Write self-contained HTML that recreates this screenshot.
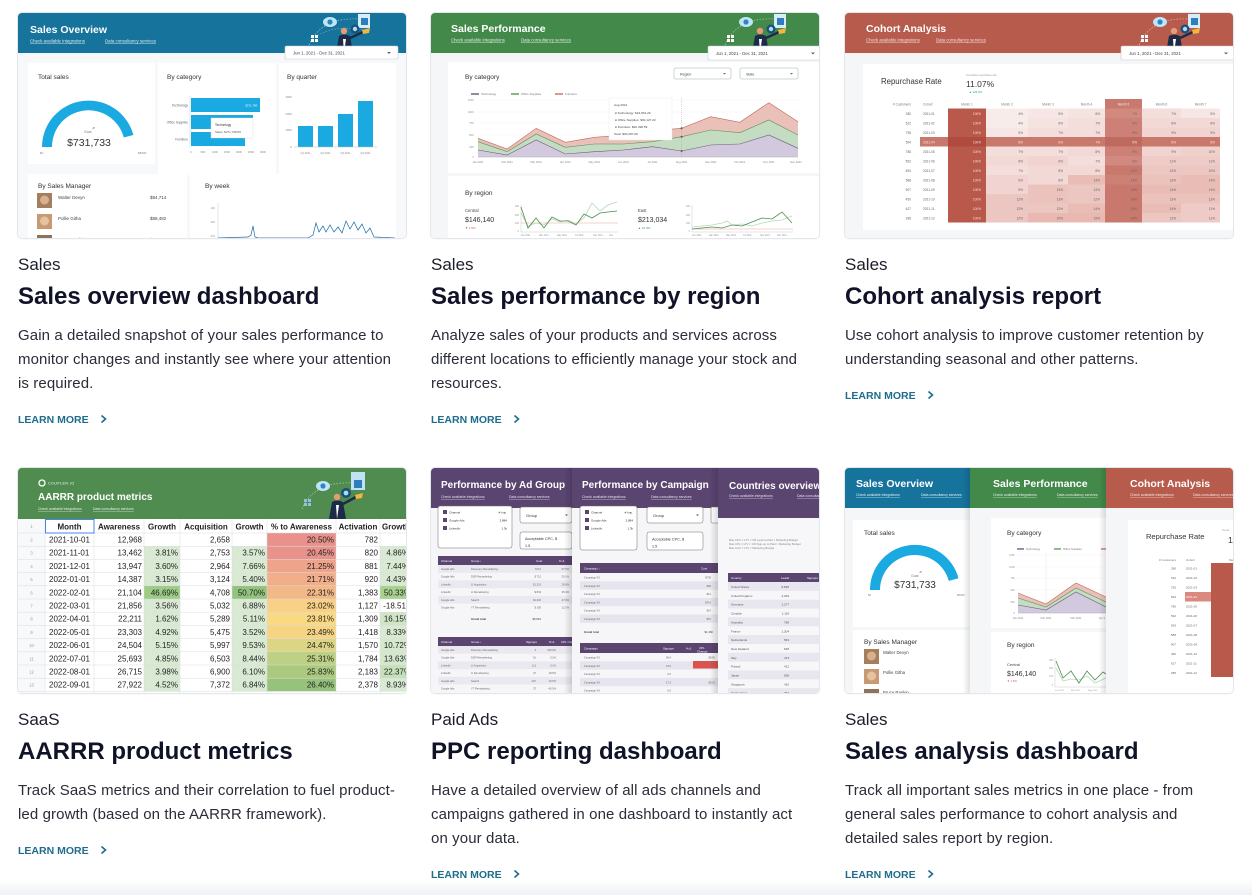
<!DOCTYPE html>
<html><head><meta charset="utf-8">
<style>
html,body{margin:0;padding:0}
body{width:1252px;height:895px;background:#fff;position:relative;overflow:hidden;font-family:"Liberation Sans",sans-serif}
.card{position:absolute;width:388px}
.thumb{width:388px;height:225px;border-radius:4px;overflow:hidden;box-shadow:0 0 0 1px #e3e7eb,0 1px 3px rgba(0,0,0,.05);background:#fff}
.thumb svg{display:block}
.cat{margin-top:17px;font-size:17px;line-height:20px;color:#1b1d29;white-space:nowrap}
.ttl{margin-top:7px;font-size:24px;line-height:30px;font-weight:bold;color:#101228;white-space:nowrap}
.desc{margin-top:12px;font-size:15px;line-height:24px;color:#2a2c38;white-space:nowrap;letter-spacing:.1px}
.lm{margin-top:17px;font-size:10.5px;line-height:14px;font-weight:bold;color:#1f6c8c;white-space:nowrap}
.lm svg{display:inline-block;vertical-align:-1px;margin-left:11px}
svg text{font-family:"Liberation Sans",sans-serif}
.e{text-anchor:end}
.m{text-anchor:middle}
.u{text-decoration:underline}
.band{position:absolute;left:0;top:880px;width:1252px;height:15px;background:linear-gradient(#ffffff,#eef2f6)}
</style></head><body>
<div class="band"></div>

<!-- ============ CARD 1 ============ -->
<div class="card" style="left:18px;top:13px">
<div class="thumb">
<svg width="388" height="225" viewBox="0 0 388 225">
<rect width="388" height="225" fill="#f6f8fa"/>
<rect width="388" height="40" fill="#16739b"/>
<text x="12" y="20" font-size="10.5" font-weight="bold" fill="#fff">Sales Overview</text>
<text x="12" y="29.5" font-size="4.4" fill="#e3eef5" class="u">Check available integrations</text>
<text x="87" y="29.5" font-size="4.4" fill="#e3eef5" class="u">Data consultancy services</text>
<g transform="translate(289,0)">
 <path d="M2 32 Q14 4 52 6" fill="none" stroke="#fff" stroke-width=".6" stroke-dasharray="1.5 1.5" opacity=".7"/>
 <path d="M8 24 Q30 10 60 18" fill="none" stroke="#fff" stroke-width=".5" stroke-dasharray="1.5 1.5" opacity=".6"/>
 <ellipse cx="23" cy="9" rx="7" ry="5" fill="#bfe6f7"/><circle cx="23" cy="9" r="2.6" fill="#2d86c2"/>
 <rect x="51" y="1" width="12" height="14" fill="#d7eef9"/><rect x="54" y="5" width="7" height="7" fill="#2e7dbf"/>
 <circle cx="48" cy="16" r="4.5" fill="#1b4f7a"/><circle cx="48" cy="16" r="2.2" fill="#a7dcf2"/>
 <path d="M29 40 L32 23 Q37 20 43 23 L46 40 Z" fill="#1c2c48"/><circle cx="37" cy="18" r="3.2" fill="#e59c74"/>
 <path d="M36 26 L37 40 L39 26 Z" fill="#fff"/>
 <path d="M43 25 L56 19" stroke="#1c2c48" stroke-width="2.6"/><path d="M55 17 L63 15 L62 20 L56 21 Z" fill="#f3b63f"/>
 <g fill="#fff"><rect x="4" y="22" width="3" height="3"/><rect x="8" y="22" width="3" height="3"/><rect x="4" y="26" width="3" height="3"/><rect x="8" y="26" width="3" height="3"/></g>
</g>
<rect x="267" y="33" width="113" height="13" rx="1.5" fill="#fff" stroke="#c3ced8" stroke-width=".6"/>
<text x="275" y="41.5" font-size="4.3" fill="#444">Jun 1, 2021 - Dec 31, 2021</text>
<path d="M369 39 l2 2 l2 -2z" fill="#666"/>
<!-- panels -->
<rect x="10" y="50" width="127" height="101" fill="#fff"/>
<rect x="140" y="50" width="118" height="112" fill="#fff"/>
<rect x="261" y="50" width="117" height="112" fill="#fff"/>
<rect x="10" y="161" width="159" height="64" fill="#fff"/>
<rect x="172" y="161" width="206" height="64" fill="#fff"/>
<text x="20" y="66" font-size="6.5" fill="#333">Total sales</text>
<path d="M24 134 A46.5 46.5 0 0 1 115.4 122 L105.8 124.5 A36.5 36.5 0 0 0 34 134 Z" fill="#1aa9e0"/>
<text x="66" y="120" font-size="3.5" fill="#777">Goal</text>
<path d="M74 116 l2 -2 l1 1 z" fill="#d9534f"/>
<text x="71" y="133" font-size="10.5" class="m" fill="#333">$731,733</text>
<text x="22" y="141" font-size="3" fill="#888">$0</text>
<text x="120" y="141" font-size="3" fill="#888">$800K</text>
<text x="149" y="66" font-size="6.5" fill="#333">By category</text>
<g font-size="3.2" fill="#666">
<text x="170" y="93.5" class="e">Technology</text><text x="170" y="110.5" class="e">Office Supplies</text><text x="170" y="127.5" class="e">Furniture</text>
</g>
<path d="M172 83 V134" stroke="#ccc" stroke-width=".5"/>
<rect x="173" y="85" width="69" height="14" fill="#1aa9e0"/>
<rect x="173" y="102" width="62" height="14" fill="#1aa9e0"/>
<rect x="173" y="119" width="54" height="14" fill="#1aa9e0"/>
<text x="239" y="93.5" font-size="2.8" class="e" fill="#fff">$371,798</text>
<g font-size="2.7" fill="#888"><text x="173" y="140" class="m">0</text><text x="185" y="140" class="m">50K</text><text x="197" y="140" class="m">100K</text><text x="209" y="140" class="m">150K</text><text x="221" y="140" class="m">200K</text><text x="233" y="140" class="m">250K</text><text x="245" y="140" class="m">300K</text></g>
<rect x="193" y="105" width="42" height="20" fill="#fff" stroke="#ddd" stroke-width=".4"/>
<text x="197" y="113" font-size="3.2" fill="#333">Technology</text>
<text x="197" y="120" font-size="3" fill="#555">Sales: $371,798.83</text>
<text x="269" y="66" font-size="6.5" fill="#333">By quarter</text>
<g font-size="2.8" fill="#888"><text x="274" y="85" class="e">300K</text><text x="274" y="102" class="e">200K</text><text x="274" y="118" class="e">100K</text><text x="274" y="135" class="e">0</text></g>
<rect x="280" y="113" width="15" height="21" fill="#1aa9e0"/>
<rect x="300" y="113" width="15" height="21" fill="#1aa9e0"/>
<rect x="320" y="101" width="15" height="33" fill="#1aa9e0"/>
<rect x="340" y="88" width="15" height="46" fill="#1aa9e0"/>
<path d="M276 134 H359" stroke="#bbb" stroke-width=".5"/>
<g font-size="2.7" fill="#888"><text x="287.5" y="141" class="m">Q1 2021</text><text x="307.5" y="141" class="m">Q2 2021</text><text x="327.5" y="141" class="m">Q3 2021</text><text x="347.5" y="141" class="m">Q4 2021</text></g>
<text x="20" y="175" font-size="6.5" fill="#333">By Sales Manager</text>
<rect x="19" y="180" width="15" height="15" fill="#a57e5e"/><circle cx="26.5" cy="187" r="4.5" fill="#d9b08c"/>
<rect x="19" y="201" width="15" height="15" fill="#c79a74"/><circle cx="26.5" cy="208" r="4.5" fill="#e6c3a0"/>
<rect x="19" y="222" width="15" height="3" fill="#8e7358"/>
<g font-size="4.5" fill="#444"><text x="40" y="186">Walter Devyn</text><text x="40" y="207">Pollie Githa</text><text x="40" y="228">Bruce Rankin</text>
<text x="132" y="186">$94,714</text><text x="132" y="207">$88,482</text><text x="132" y="228">$81,285</text></g>
<text x="187" y="175" font-size="6.5" fill="#333">By week</text>
<g font-size="2.7" fill="#999"><text x="197" y="196" class="e">400</text><text x="197" y="210" class="e">300</text><text x="197" y="224" class="e">200</text></g>
<path d="M200 190 V225" stroke="#bbb" stroke-width=".4"/>
<polyline points="200,225 230,224 233,222 235,213 237,224 240,225 290,225 295,222 298,210 301,219 305,213 308,219 312,212 316,219 320,214 324,220 328,208 332,216 336,209 340,217 344,211 348,220 352,215 356,224 377,225" fill="none" stroke="#1b6aa5" stroke-width=".7"/>
</svg>
</div>
<div class="cat">Sales</div>
<div class="ttl">Sales overview dashboard</div>
<div class="desc">Gain a detailed snapshot of your sales performance to<br>monitor changes and instantly see where your attention<br>is required.</div>
<div class="lm">LEARN MORE<svg width="7" height="10" viewBox="0 0 7 10"><polyline points="1.5,1.5 5.5,5 1.5,8.5" fill="none" stroke="#1f6c8c" stroke-width="1.6"/></svg></div>
</div>

<!-- ============ CARD 2 ============ -->
<div class="card" style="left:431px;top:13px">
<div class="thumb">
<svg width="388" height="225" viewBox="0 0 388 225">
<rect width="388" height="225" fill="#f4f6f8"/>
<rect width="388" height="40" fill="#43894a"/>
<text x="20" y="19" font-size="10.5" font-weight="bold" fill="#fff">Sales Performance</text>
<text x="20" y="28.5" font-size="4.3" fill="#e4f0e4" class="u">Check available integrations</text>
<text x="90" y="28.5" font-size="4.3" fill="#e4f0e4" class="u">Data consultancy services</text>
<g transform="translate(292,0)">
 <path d="M2 32 Q14 4 52 6" fill="none" stroke="#fff" stroke-width=".6" stroke-dasharray="1.5 1.5" opacity=".7"/>
 <ellipse cx="23" cy="9" rx="7" ry="5" fill="#bfe6f7"/><circle cx="23" cy="9" r="2.6" fill="#2d86c2"/>
 <rect x="51" y="1" width="12" height="14" fill="#d7eef9"/><rect x="54" y="5" width="7" height="7" fill="#2e7dbf"/>
 <circle cx="48" cy="16" r="4.5" fill="#1b4f7a"/><circle cx="48" cy="16" r="2.2" fill="#a7dcf2"/>
 <path d="M29 40 L32 23 Q37 20 43 23 L46 40 Z" fill="#1c2c48"/><circle cx="37" cy="18" r="3.2" fill="#e59c74"/>
 <path d="M36 26 L37 40 L39 26 Z" fill="#fff"/>
 <path d="M43 25 L56 19" stroke="#1c2c48" stroke-width="2.6"/><path d="M55 17 L63 15 L62 20 L56 21 Z" fill="#f3b63f"/>
 <g fill="#fff"><rect x="4" y="22" width="3" height="3"/><rect x="8" y="22" width="3" height="3"/><rect x="4" y="26" width="3" height="3"/><rect x="8" y="26" width="3" height="3"/></g>
</g>
<rect x="277" y="33" width="115" height="14" rx="1.5" fill="#fff" stroke="#c3ced8" stroke-width=".6"/>
<text x="285" y="42" font-size="4.3" fill="#444">Jun 1, 2021 - Dec 31, 2021</text>
<path d="M380 39.5 l2 2 l2 -2z" fill="#666"/>
<rect x="17" y="49" width="371" height="111" fill="#fff"/>
<text x="34" y="66" font-size="6.5" fill="#333">By category</text>
<rect x="243" y="55" width="57" height="11" rx="1.5" fill="#fff" stroke="#9aa" stroke-width=".5"/>
<text x="249" y="62.5" font-size="3.6" fill="#444">Region</text><path d="M292 60 l1.5 1.5 l1.5 -1.5z" fill="#666"/>
<rect x="309" y="55" width="58" height="11" rx="1.5" fill="#fff" stroke="#9aa" stroke-width=".5"/>
<text x="315" y="62.5" font-size="3.6" fill="#444">State</text><path d="M359 60 l1.5 1.5 l1.5 -1.5z" fill="#666"/>
<rect x="40" y="80.2" width="8" height="1.6" fill="#7b6a8c"/><text x="50" y="82" font-size="3" fill="#777">Technology</text>
<rect x="80" y="80.2" width="8" height="1.6" fill="#6ea66e"/><text x="90" y="82" font-size="3" fill="#777">Office Supplies</text>
<rect x="124" y="80.2" width="8" height="1.6" fill="#d08075"/><text x="134" y="82" font-size="3" fill="#777">Furniture</text>
<g font-size="2.8" fill="#999"><text x="43" y="88" class="e">125K</text><text x="43" y="100" class="e">100K</text><text x="43" y="111" class="e">75K</text><text x="43" y="123" class="e">50K</text><text x="43" y="135" class="e">25K</text><text x="43" y="145" class="e">0</text></g>
<path d="M47 87H367M47 99H367M47 110H367M47 122H367M47 134H367" stroke="#eee" stroke-width=".4"/>
<polygon points="47,137 76.1,142 105.2,127 134.3,141 163.4,138.7 192.5,137 221.5,133.7 250.6,138 279.7,132 308.8,131 337.9,122 367,135.3 367,144 47,144" fill="#d3c9de"/>
<polygon points="47,128.7 76.1,138.7 105.2,121 134.3,134.3 163.4,131 192.5,131 221.5,128.7 250.6,123.7 279.7,117 308.8,119.7 337.9,107 367,122 367,135.3 337.9,122 308.8,131 279.7,132 250.6,138 221.5,133.7 192.5,137 163.4,138.7 134.3,141 105.2,127 76.1,142 47,137" fill="#c4dcc2"/>
<polygon points="47,125.3 76.1,136 105.2,115.3 134.3,129.3 163.4,124.3 192.5,122 221.5,117.7 250.6,115.3 279.7,103.7 308.8,109.3 337.9,89.7 367,108.7 367,122 337.9,107 308.8,119.7 279.7,117 250.6,123.7 221.5,128.7 192.5,131 163.4,131 134.3,134.3 105.2,121 76.1,138.7 47,128.7" fill="#e9c1b9"/>
<polyline points="47,137 76.1,142 105.2,127 134.3,141 163.4,138.7 192.5,137 221.5,133.7 250.6,138 279.7,132 308.8,131 337.9,122 367,135.3" fill="none" stroke="#6a5a7c" stroke-width=".6"/>
<polyline points="47,128.7 76.1,138.7 105.2,121 134.3,134.3 163.4,131 192.5,131 221.5,128.7 250.6,123.7 279.7,117 308.8,119.7 337.9,107 367,122" fill="none" stroke="#5e8e5e" stroke-width=".6"/>
<polyline points="47,125.3 76.1,136 105.2,115.3 134.3,129.3 163.4,124.3 192.5,122 221.5,117.7 250.6,115.3 279.7,103.7 308.8,109.3 337.9,89.7 367,108.7" fill="none" stroke="#c0675c" stroke-width=".6"/>
<path d="M47 144H367" stroke="#aaa" stroke-width=".5"/>
<path d="M250.6 85V144" stroke="#999" stroke-width=".4" stroke-dasharray="1 1"/>
<circle cx="250.6" cy="138" r="1" fill="#555"/><circle cx="250.6" cy="123.7" r="1" fill="#555"/><circle cx="250.6" cy="115.3" r="1" fill="#555"/>
<rect x="178" y="85" width="63" height="42" fill="#fff" stroke="#e3e3e3" stroke-width=".4"/>
<g font-size="3.1" fill="#444"><text x="183" y="93">Aug 2021</text><text x="184" y="101">● Technology: $19,831.29</text><text x="184" y="108">● Office Supplies: $30,127.22</text><text x="184" y="115">● Furniture: $46,328.59</text><text x="183" y="122">Total: $92,287.09</text></g>
<g font-size="2.7" fill="#888"><text x="47" y="150" class="m">Jan 2021</text><text x="76.1" y="150" class="m">Feb 2021</text><text x="105.2" y="150" class="m">Mar 2021</text><text x="134.3" y="150" class="m">Apr 2021</text><text x="163.4" y="150" class="m">May 2021</text><text x="192.5" y="150" class="m">Jun 2021</text><text x="221.5" y="150" class="m">Jul 2021</text><text x="250.6" y="150" class="m">Aug 2021</text><text x="279.7" y="150" class="m">Sep 2021</text><text x="308.8" y="150" class="m">Oct 2021</text><text x="337.9" y="150" class="m">Nov 2021</text><text x="365" y="150" class="m">Dec 2021</text></g>
<rect x="17" y="163" width="371" height="62" fill="#fff"/>
<text x="34" y="182" font-size="6.5" fill="#333">By region</text>
<text x="34" y="199" font-size="4.2" fill="#444">Central</text>
<text x="34" y="209" font-size="7" fill="#333">$146,140</text>
<text x="34" y="216" font-size="3" fill="#d9534f">▼ 1.5%</text>
<g font-size="2.5" fill="#999"><text x="88" y="194" class="e">300</text><text x="88" y="203" class="e">200</text><text x="88" y="211" class="e">100</text><text x="88" y="219" class="e">0</text></g>
<path d="M90 192V219H187" fill="none" stroke="#bbb" stroke-width=".4"/>
<path d="M90 210H187" stroke="#e08a80" stroke-width=".4"/>
<polyline points="90,200 97,213 105,210 113,212 121,206 129,209 137,207 145,211 153,205 161,190 169,198 177,192 186,189" fill="none" stroke="#b8d8b6" stroke-width=".8"/>
<polyline points="90,194 97,215 105,205 113,215 121,204 129,208 137,208 145,212 153,201 161,205 169,200 177,199 186,198" fill="none" stroke="#4c8c4c" stroke-width=".8"/>
<g font-size="2.3" fill="#999"><text x="90" y="223">Jan 2021</text><text x="108" y="223">Mar 2021</text><text x="126" y="223">May 2021</text><text x="144" y="223">Jul 2021</text><text x="162" y="223">Sep 2021</text><text x="178" y="223">Nov</text></g>
<text x="207" y="199" font-size="4.2" fill="#444">East</text>
<text x="207" y="209" font-size="7" fill="#333">$213,034</text>
<text x="207" y="216" font-size="3" fill="#3c9a5f">▲ 10.3%</text>
<g font-size="2.5" fill="#999"><text x="259" y="194" class="e">300</text><text x="259" y="203" class="e">200</text><text x="259" y="211" class="e">100</text><text x="259" y="219" class="e">0</text></g>
<path d="M261 192V219H362" fill="none" stroke="#bbb" stroke-width=".4"/>
<path d="M261 216H362" stroke="#e08a80" stroke-width=".4"/>
<polyline points="261,214 271,213 281,212 291,210 296,208 301,212 311,211 321,213 331,210 341,208 351,207 361,203" fill="none" stroke="#b8d8b6" stroke-width=".8"/>
<polyline points="261,216 271,215 281,214 291,215 301,212 311,213 321,209 331,205 341,206 351,199 361,210" fill="none" stroke="#4c8c4c" stroke-width=".8"/>
<g font-size="2.3" fill="#999"><text x="261" y="223">Jan 2021</text><text x="278" y="223">Mar 2021</text><text x="295" y="223">May 2021</text><text x="312" y="223">Jul 2021</text><text x="329" y="223">Sep 2021</text><text x="346" y="223">Nov 2021</text></g>
</svg>
</div>
<div class="cat">Sales</div>
<div class="ttl">Sales performance by region</div>
<div class="desc">Analyze sales of your products and services across<br>different locations to efficiently manage your stock and<br>resources.</div>
<div class="lm">LEARN MORE<svg width="7" height="10" viewBox="0 0 7 10"><polyline points="1.5,1.5 5.5,5 1.5,8.5" fill="none" stroke="#1f6c8c" stroke-width="1.6"/></svg></div>
</div>

<!-- ============ CARD 3 ============ -->
<div class="card" style="left:845px;top:13px">
<div class="thumb">
<svg width="388" height="225" viewBox="0 0 388 225">
<rect width="388" height="225" fill="#f4f6f8"/>
<rect width="388" height="40" fill="#b75b4d"/>
<text x="21" y="19" font-size="10.5" font-weight="bold" fill="#fff">Cohort Analysis</text>
<text x="21" y="28.5" font-size="4.3" fill="#f6e3df" class="u">Check available integrations</text>
<text x="91" y="28.5" font-size="4.3" fill="#f6e3df" class="u">Data consultancy services</text>
<g transform="translate(292,0)">
 <path d="M2 32 Q14 4 52 6" fill="none" stroke="#fff" stroke-width=".6" stroke-dasharray="1.5 1.5" opacity=".7"/>
 <ellipse cx="23" cy="9" rx="7" ry="5" fill="#bfe6f7"/><circle cx="23" cy="9" r="2.6" fill="#2d86c2"/>
 <rect x="51" y="1" width="12" height="14" fill="#d7eef9"/><rect x="54" y="5" width="7" height="7" fill="#2e7dbf"/>
 <circle cx="48" cy="16" r="4.5" fill="#1b4f7a"/><circle cx="48" cy="16" r="2.2" fill="#a7dcf2"/>
 <path d="M29 40 L32 23 Q37 20 43 23 L46 40 Z" fill="#1c2c48"/><circle cx="37" cy="18" r="3.2" fill="#e59c74"/>
 <path d="M36 26 L37 40 L39 26 Z" fill="#fff"/>
 <path d="M43 25 L56 19" stroke="#1c2c48" stroke-width="2.6"/><path d="M55 17 L63 15 L62 20 L56 21 Z" fill="#f3b63f"/>
 <g fill="#fff"><rect x="4" y="22" width="3" height="3"/><rect x="8" y="22" width="3" height="3"/><rect x="4" y="26" width="3" height="3"/><rect x="8" y="26" width="3" height="3"/></g>
</g>
<rect x="276" y="33" width="115" height="14" rx="1.5" fill="#fff" stroke="#d8c4c0" stroke-width=".6"/>
<text x="284" y="42" font-size="4.3" fill="#444">Jun 1, 2021 - Dec 31, 2021</text>
<path d="M379 39.5 l2 2 l2 -2z" fill="#666"/>
<rect x="18" y="51" width="370" height="166" fill="#fff"/>
<text x="36" y="71" font-size="7.8" fill="#333">Repurchase Rate</text>
<text x="121" y="63" font-size="2.5" fill="#999">Cumulative repurchase rate</text>
<text x="121" y="74" font-size="8.5" fill="#333">11.07%</text>
<text x="124" y="80" font-size="2.8" fill="#3c9a5f">▲ 126.3%</text>
<rect x="260" y="86" width="37" height="9.5" fill="#c9796d"/>
<g font-size="3.2" fill="#777">
<text x="66" y="92.5" class="e"># Customers</text><text x="78" y="92.5">Cohort</text>
<text x="122" y="92.5" class="m">Month 1</text><text x="162" y="92.5" class="m">Month 2</text><text x="203" y="92.5" class="m">Month 3</text><text x="241.5" y="92.5" class="m">Month 4</text><text x="278.5" y="92.5" class="m" fill="#fbe9e6">Month 5</text><text x="316.5" y="92.5" class="m">Month 6</text><text x="355.5" y="92.5" class="m">Month 7</text>
</g>
<g font-size="3.2" fill="#666">
<g transform="translate(0,95.5)"><rect x="141" width="42" height="9.5" fill="#f8eceb"/><rect x="183" width="40" height="9.5" fill="#f6e7e6"/><rect x="223" width="37" height="9.5" fill="#f5e3e0"/><rect x="260" width="37" height="9.5" fill="#d28a80"/><rect x="297" width="39" height="9.5" fill="#f4dedb"/><rect x="336" width="39" height="9.5" fill="#f6e7e6"/><rect x="103" width="38" height="9.5" fill="#b9594b"/>
<text x="66" y="6.3" class="e">280</text><text x="78" y="6.3">2021-01</text><text x="136" y="6.3" class="e" fill="#f6dcd7">100%</text><text x="178" y="6.3" class="e">4%</text><text x="218" y="6.3" class="e">5%</text><text x="255" y="6.3" class="e">6%</text><text x="292" y="6.3" class="e">7%</text><text x="331" y="6.3" class="e">7%</text><text x="370" y="6.3" class="e">5%</text></g>
<g transform="translate(0,105)"><rect x="141" width="42" height="9.5" fill="#f8eceb"/><rect x="183" width="40" height="9.5" fill="#f5e3e0"/><rect x="223" width="37" height="9.5" fill="#f4dedb"/><rect x="260" width="37" height="9.5" fill="#cd8176"/><rect x="297" width="39" height="9.5" fill="#f2d9d6"/><rect x="336" width="39" height="9.5" fill="#f2d9d6"/><rect x="103" width="38" height="9.5" fill="#b9594b"/>
<text x="66" y="6.3" class="e">522</text><text x="78" y="6.3">2021-02</text><text x="136" y="6.3" class="e" fill="#f6dcd7">100%</text><text x="178" y="6.3" class="e">4%</text><text x="218" y="6.3" class="e">6%</text><text x="255" y="6.3" class="e">7%</text><text x="292" y="6.3" class="e">9%</text><text x="331" y="6.3" class="e">8%</text><text x="370" y="6.3" class="e">8%</text></g>
<g transform="translate(0,114.5)"><rect x="141" width="42" height="9.5" fill="#f6e7e6"/><rect x="183" width="40" height="9.5" fill="#f4dedb"/><rect x="223" width="37" height="9.5" fill="#f4dedb"/><rect x="260" width="37" height="9.5" fill="#cd8176"/><rect x="297" width="39" height="9.5" fill="#f1d4d1"/><rect x="336" width="39" height="9.5" fill="#f1d4d1"/><rect x="103" width="38" height="9.5" fill="#b9594b"/>
<text x="66" y="6.3" class="e">755</text><text x="78" y="6.3">2021-03</text><text x="136" y="6.3" class="e" fill="#f6dcd7">100%</text><text x="178" y="6.3" class="e">5%</text><text x="218" y="6.3" class="e">7%</text><text x="255" y="6.3" class="e">7%</text><text x="292" y="6.3" class="e">9%</text><text x="331" y="6.3" class="e">9%</text><text x="370" y="6.3" class="e">9%</text></g>
<g transform="translate(0,124)"><rect x="75" width="300" height="9.5" fill="#c9786c"/><rect x="260" width="37" height="9.5" fill="#bf6a5e"/><rect x="103" width="38" height="9.5" fill="#b04c3f"/>
<text x="66" y="6.3" class="e">594</text><text x="78" y="6.3" fill="#fbe9e6">2021-04</text><text x="136" y="6.3" class="e" fill="#f6dcd7">100%</text><text x="178" y="6.3" class="e" fill="#fbe9e6">8%</text><text x="218" y="6.3" class="e" fill="#fbe9e6">6%</text><text x="255" y="6.3" class="e" fill="#fbe9e6">7%</text><text x="292" y="6.3" class="e" fill="#fbe9e6">5%</text><text x="331" y="6.3" class="e" fill="#fbe9e6">8%</text><text x="370" y="6.3" class="e" fill="#fbe9e6">8%</text></g>
<g transform="translate(0,133.5)"><rect x="141" width="42" height="9.5" fill="#f4dedb"/><rect x="183" width="40" height="9.5" fill="#f4dedb"/><rect x="223" width="37" height="9.5" fill="#f2d9d6"/><rect x="260" width="37" height="9.5" fill="#cd8176"/><rect x="297" width="39" height="9.5" fill="#f1d4d1"/><rect x="336" width="39" height="9.5" fill="#efd0cb"/><rect x="103" width="38" height="9.5" fill="#b9594b"/>
<text x="66" y="6.3" class="e">786</text><text x="78" y="6.3">2021-05</text><text x="136" y="6.3" class="e" fill="#f6dcd7">100%</text><text x="178" y="6.3" class="e">7%</text><text x="218" y="6.3" class="e">7%</text><text x="255" y="6.3" class="e">8%</text><text x="292" y="6.3" class="e">9%</text><text x="331" y="6.3" class="e">9%</text><text x="370" y="6.3" class="e">10%</text></g>
<g transform="translate(0,143)"><rect x="141" width="42" height="9.5" fill="#f2d9d6"/><rect x="183" width="40" height="9.5" fill="#f1d4d1"/><rect x="223" width="37" height="9.5" fill="#f4dedb"/><rect x="260" width="37" height="9.5" fill="#d28a80"/><rect x="297" width="39" height="9.5" fill="#eecbc6"/><rect x="336" width="39" height="9.5" fill="#eecbc6"/><rect x="103" width="38" height="9.5" fill="#b9594b"/>
<text x="66" y="6.3" class="e">592</text><text x="78" y="6.3">2021-06</text><text x="136" y="6.3" class="e" fill="#f6dcd7">100%</text><text x="178" y="6.3" class="e">8%</text><text x="218" y="6.3" class="e">9%</text><text x="255" y="6.3" class="e">7%</text><text x="292" y="6.3" class="e">8%</text><text x="331" y="6.3" class="e">11%</text><text x="370" y="6.3" class="e">11%</text></g>
<g transform="translate(0,152.5)"><rect x="141" width="42" height="9.5" fill="#f4dedb"/><rect x="183" width="40" height="9.5" fill="#f2d9d6"/><rect x="223" width="37" height="9.5" fill="#f2d9d6"/><rect x="260" width="37" height="9.5" fill="#c8786c"/><rect x="297" width="39" height="9.5" fill="#ecc6c1"/><rect x="336" width="39" height="9.5" fill="#ecc6c1"/><rect x="103" width="38" height="9.5" fill="#b9594b"/>
<text x="66" y="6.3" class="e">693</text><text x="78" y="6.3">2021-07</text><text x="136" y="6.3" class="e" fill="#f6dcd7">100%</text><text x="178" y="6.3" class="e">7%</text><text x="218" y="6.3" class="e">8%</text><text x="255" y="6.3" class="e">8%</text><text x="292" y="6.3" class="e">12%</text><text x="331" y="6.3" class="e">12%</text><text x="370" y="6.3" class="e">12%</text></g>
<g transform="translate(0,162)"><rect x="141" width="42" height="9.5" fill="#f1d4d1"/><rect x="183" width="40" height="9.5" fill="#f2d9d6"/><rect x="223" width="37" height="9.5" fill="#e9bdb6"/><rect x="260" width="37" height="9.5" fill="#cd8176"/><rect x="297" width="39" height="9.5" fill="#ebc2bc"/><rect x="336" width="39" height="9.5" fill="#e9bdb6"/><rect x="103" width="38" height="9.5" fill="#b9594b"/>
<text x="66" y="6.3" class="e">588</text><text x="78" y="6.3">2021-08</text><text x="136" y="6.3" class="e" fill="#f6dcd7">100%</text><text x="178" y="6.3" class="e">9%</text><text x="218" y="6.3" class="e">8%</text><text x="255" y="6.3" class="e">14%</text><text x="292" y="6.3" class="e">11%</text><text x="331" y="6.3" class="e">13%</text><text x="370" y="6.3" class="e">14%</text></g>
<g transform="translate(0,171.5)"><rect x="141" width="42" height="9.5" fill="#f1d4d1"/><rect x="183" width="40" height="9.5" fill="#ebc2bc"/><rect x="223" width="37" height="9.5" fill="#ecc6c1"/><rect x="260" width="37" height="9.5" fill="#c8786c"/><rect x="297" width="39" height="9.5" fill="#e9bdb6"/><rect x="336" width="39" height="9.5" fill="#e9bdb6"/><rect x="103" width="38" height="9.5" fill="#b9594b"/>
<text x="66" y="6.3" class="e">907</text><text x="78" y="6.3">2021-09</text><text x="136" y="6.3" class="e" fill="#f6dcd7">100%</text><text x="178" y="6.3" class="e">9%</text><text x="218" y="6.3" class="e">13%</text><text x="255" y="6.3" class="e">12%</text><text x="292" y="6.3" class="e">13%</text><text x="331" y="6.3" class="e">14%</text><text x="370" y="6.3" class="e">14%</text></g>
<g transform="translate(0,181)"><rect x="141" width="42" height="9.5" fill="#ecc6c1"/><rect x="183" width="40" height="9.5" fill="#ebc2bc"/><rect x="223" width="37" height="9.5" fill="#ecc6c1"/><rect x="260" width="37" height="9.5" fill="#c8786c"/><rect x="297" width="39" height="9.5" fill="#ebc2bc"/><rect x="336" width="39" height="9.5" fill="#ebc2bc"/><rect x="103" width="38" height="9.5" fill="#b9594b"/>
<text x="66" y="6.3" class="e">450</text><text x="78" y="6.3">2021-10</text><text x="136" y="6.3" class="e" fill="#f6dcd7">100%</text><text x="178" y="6.3" class="e">12%</text><text x="218" y="6.3" class="e">13%</text><text x="255" y="6.3" class="e">12%</text><text x="292" y="6.3" class="e">14%</text><text x="331" y="6.3" class="e">13%</text><text x="370" y="6.3" class="e">13%</text></g>
<g transform="translate(0,190.5)"><rect x="141" width="42" height="9.5" fill="#ecc6c1"/><rect x="183" width="40" height="9.5" fill="#ecc6c1"/><rect x="223" width="37" height="9.5" fill="#e9bdb6"/><rect x="260" width="37" height="9.5" fill="#c8786c"/><rect x="297" width="39" height="9.5" fill="#e9bdb6"/><rect x="336" width="39" height="9.5" fill="#eecbc6"/><rect x="103" width="38" height="9.5" fill="#b9594b"/>
<text x="66" y="6.3" class="e">627</text><text x="78" y="6.3">2021-11</text><text x="136" y="6.3" class="e" fill="#f6dcd7">100%</text><text x="178" y="6.3" class="e">12%</text><text x="218" y="6.3" class="e">12%</text><text x="255" y="6.3" class="e">14%</text><text x="292" y="6.3" class="e">13%</text><text x="331" y="6.3" class="e">14%</text><text x="370" y="6.3" class="e">11%</text></g>
<g transform="translate(0,200)"><rect x="141" width="42" height="9.5" fill="#ecc6c1"/><rect x="183" width="40" height="9.5" fill="#e8b8b1"/><rect x="223" width="37" height="9.5" fill="#e8b8b1"/><rect x="260" width="37" height="9.5" fill="#c8786c"/><rect x="297" width="39" height="9.5" fill="#ecc6c1"/><rect x="336" width="39" height="9.5" fill="#eecbc6"/><rect x="103" width="38" height="9.5" fill="#b9594b"/>
<text x="66" y="6.3" class="e">285</text><text x="78" y="6.3">2021-12</text><text x="136" y="6.3" class="e" fill="#f6dcd7">100%</text><text x="178" y="6.3" class="e">12%</text><text x="218" y="6.3" class="e">15%</text><text x="255" y="6.3" class="e">15%</text><text x="292" y="6.3" class="e">14%</text><text x="331" y="6.3" class="e">12%</text><text x="370" y="6.3" class="e">11%</text></g>
</g>
</svg>
</div>
<div class="cat">Sales</div>
<div class="ttl">Cohort analysis report</div>
<div class="desc">Use cohort analysis to improve customer retention by<br>understanding seasonal and other patterns.</div>
<div class="lm">LEARN MORE<svg width="7" height="10" viewBox="0 0 7 10"><polyline points="1.5,1.5 5.5,5 1.5,8.5" fill="none" stroke="#1f6c8c" stroke-width="1.6"/></svg></div>
</div>

<!-- ============ CARD 4 ============ -->
<div class="card" style="left:18px;top:468px">
<div class="thumb">
<svg width="388" height="225" viewBox="0 0 388 225">
<rect width="388" height="225" fill="#fff"/>
<rect width="388" height="51" fill="#508b50"/>
<circle cx="24" cy="15" r="3" fill="none" stroke="#fff" stroke-width="1.3"/>
<text x="30" y="16.5" font-size="3.5" fill="#fff" letter-spacing=".5">COUPLER.IO</text>
<text x="20" y="32" font-size="10" font-weight="bold" fill="#fff">AARRR product metrics</text>
<text x="20" y="42" font-size="3.5" fill="#e4f0e4" class="u">Check available integrations</text>
<text x="75" y="42" font-size="3.5" fill="#e4f0e4" class="u">Data consultancy services</text>
<g transform="translate(282,9)">
 <path d="M2 32 Q14 4 52 6" fill="none" stroke="#fff" stroke-width=".6" stroke-dasharray="1.5 1.5" opacity=".7"/>
 <ellipse cx="23" cy="9" rx="7" ry="5" fill="#bfe6f7"/><circle cx="23" cy="9" r="2.6" fill="#2d86c2"/>
 <rect x="51" y="-5" width="14" height="18" fill="#bfe3f4"/><rect x="54" y="3" width="8" height="8" fill="#2e7dbf"/>
 <circle cx="46" cy="16" r="5" fill="#1b4f7a"/><circle cx="46" cy="16" r="2.4" fill="#a7dcf2"/>
 <path d="M29 42 L32 25 Q37 22 43 25 L46 42 Z" fill="#1c2c48"/><circle cx="37" cy="20" r="3.2" fill="#e59c74"/>
 <path d="M36 28 L37 42 L39 28 Z" fill="#fff"/>
 <path d="M43 27 L56 20" stroke="#1c2c48" stroke-width="2.6"/><path d="M55 18 L63 16 L62 21 L56 22 Z" fill="#f3b63f"/>
 <g fill="#8fc4e0"><rect x="4" y="22" width="3" height="3"/><rect x="8" y="22" width="3" height="3"/><rect x="4" y="26" width="3" height="3"/><rect x="8" y="26" width="3" height="3"/></g>
</g>
<rect x="0" y="51" width="27" height="174" fill="#f8f9fa"/>
<g>
<rect x="249" y="65" width="69" height="13.2" fill="#e8928b"/>
<g transform="translate(0,78.2)"><rect x="126" width="36" height="13.2" fill="#d9ead3"/><rect x="214" width="35" height="13.2" fill="#d9ead3"/><rect x="249" width="69" height="13.2" fill="#e8928b"/><rect x="362" width="30" height="13.2" fill="#d9ead3"/></g>
<g transform="translate(0,91.4)"><rect x="126" width="36" height="13.2" fill="#d9ead3"/><rect x="214" width="35" height="13.2" fill="#d9ead3"/><rect x="249" width="69" height="13.2" fill="#eea38b"/><rect x="362" width="30" height="13.2" fill="#d9ead3"/></g>
<g transform="translate(0,104.6)"><rect x="126" width="36" height="13.2" fill="#d9ead3"/><rect x="214" width="35" height="13.2" fill="#d9ead3"/><rect x="249" width="69" height="13.2" fill="#f1ae89"/><rect x="362" width="30" height="13.2" fill="#d9ead3"/></g>
<g transform="translate(0,117.8)"><rect x="126" width="36" height="13.2" fill="#9ccc85"/><rect x="214" width="35" height="13.2" fill="#93c47d"/><rect x="249" width="69" height="13.2" fill="#f3b887"/><rect x="362" width="30" height="13.2" fill="#a9d18e"/></g>
<g transform="translate(0,131)"><rect x="126" width="36" height="13.2" fill="#d9ead3"/><rect x="214" width="35" height="13.2" fill="#d9ead3"/><rect x="249" width="69" height="13.2" fill="#f8d086"/></g>
<g transform="translate(0,144.2)"><rect x="126" width="36" height="13.2" fill="#d9ead3"/><rect x="214" width="35" height="13.2" fill="#d9ead3"/><rect x="249" width="69" height="13.2" fill="#f9d982"/><rect x="362" width="30" height="13.2" fill="#cfe5c5"/></g>
<g transform="translate(0,157.4)"><rect x="126" width="36" height="13.2" fill="#d9ead3"/><rect x="214" width="35" height="13.2" fill="#d9ead3"/><rect x="249" width="69" height="13.2" fill="#f7d483"/><rect x="362" width="30" height="13.2" fill="#d9ead3"/></g>
<g transform="translate(0,170.6)"><rect x="126" width="36" height="13.2" fill="#d9ead3"/><rect x="214" width="35" height="13.2" fill="#d9ead3"/><rect x="249" width="69" height="13.2" fill="#dcd584"/><rect x="362" width="30" height="13.2" fill="#d6e9ce"/></g>
<g transform="translate(0,183.8)"><rect x="126" width="36" height="13.2" fill="#d9ead3"/><rect x="214" width="35" height="13.2" fill="#d9ead3"/><rect x="249" width="69" height="13.2" fill="#bdd083"/><rect x="362" width="30" height="13.2" fill="#d4e8cc"/></g>
<g transform="translate(0,197)"><rect x="126" width="36" height="13.2" fill="#d9ead3"/><rect x="214" width="35" height="13.2" fill="#d9ead3"/><rect x="249" width="69" height="13.2" fill="#abca7f"/><rect x="362" width="30" height="13.2" fill="#c6e0b9"/></g>
<g transform="translate(0,210.2)"><rect x="126" width="36" height="13.2" fill="#d9ead3"/><rect x="214" width="35" height="13.2" fill="#d9ead3"/><rect x="249" width="69" height="13.2" fill="#96c27b"/><rect x="362" width="30" height="13.2" fill="#d9ead3"/></g>
</g>
<path d="M27 51V225M76 51V225M126 51V225M162 51V225M214 51V225M249 51V225M318 51V225M362 51V225M0 65H388M0 78.2H388M0 91.4H388M0 104.6H388M0 117.8H388M0 131H388M0 144.2H388M0 157.4H388M0 170.6H388M0 183.8H388M0 197H388M0 210.2H388M0 223.4H388" stroke="#dadce0" stroke-width=".5" fill="none"/>
<rect x="27.5" y="51.5" width="48.5" height="13.5" fill="none" stroke="#4a86e8" stroke-width="1"/>
<g font-size="8" font-weight="bold" fill="#222">
<text x="51.5" y="61.5" class="m">Month</text><text x="101" y="61.5" class="m">Awareness</text><text x="144" y="61.5" class="m">Growth</text><text x="188" y="61.5" class="m">Acquisition</text><text x="231.5" y="61.5" class="m">Growth</text><text x="283.5" y="61.5" class="m">% to Awareness</text><text x="340" y="61.5" class="m">Activation</text><text x="364" y="61.5">Growth</text>
</g>
<g font-size="4.2" fill="#999">
<text x="13.5" y="60" class="m">1</text><text x="13.5" y="73.5" class="m">2</text><text x="13.5" y="86.7" class="m">3</text><text x="13.5" y="99.9" class="m">4</text><text x="13.5" y="113.1" class="m">5</text><text x="13.5" y="126.3" class="m">6</text><text x="13.5" y="139.5" class="m">7</text><text x="13.5" y="152.7" class="m">8</text><text x="13.5" y="165.9" class="m">9</text><text x="13.5" y="179.1" class="m">10</text><text x="13.5" y="192.3" class="m">11</text><text x="13.5" y="205.5" class="m">12</text><text x="13.5" y="218.7" class="m">13</text>
</g>
<g font-size="8" fill="#222">
<g transform="translate(0,65)"><text x="31" y="9.5">2021-10-01</text><text x="124" y="9.5" class="e">12,968</text><text x="212" y="9.5" class="e">2,658</text><text x="316" y="9.5" class="e">20.50%</text><text x="360" y="9.5" class="e">782</text></g>
<g transform="translate(0,78.2)"><text x="31" y="9.5">2021-11-01</text><text x="124" y="9.5" class="e">13,462</text><text x="160" y="9.5" class="e">3.81%</text><text x="212" y="9.5" class="e">2,753</text><text x="247" y="9.5" class="e">3.57%</text><text x="316" y="9.5" class="e">20.45%</text><text x="360" y="9.5" class="e">820</text><text x="391" y="9.5" class="e">4.86%</text></g>
<g transform="translate(0,91.4)"><text x="31" y="9.5">2021-12-01</text><text x="124" y="9.5" class="e">13,947</text><text x="160" y="9.5" class="e">3.60%</text><text x="212" y="9.5" class="e">2,964</text><text x="247" y="9.5" class="e">7.66%</text><text x="316" y="9.5" class="e">21.25%</text><text x="360" y="9.5" class="e">881</text><text x="391" y="9.5" class="e">7.44%</text></g>
<g transform="translate(0,104.6)"><text x="31" y="9.5">2022-01-01</text><text x="124" y="9.5" class="e">14,387</text><text x="160" y="9.5" class="e">3.15%</text><text x="212" y="9.5" class="e">3,124</text><text x="247" y="9.5" class="e">5.40%</text><text x="316" y="9.5" class="e">21.71%</text><text x="360" y="9.5" class="e">920</text><text x="391" y="9.5" class="e">4.43%</text></g>
<g transform="translate(0,117.8)"><text x="31" y="9.5">2022-02-01</text><text x="124" y="9.5" class="e">21,104</text><text x="160" y="9.5" class="e">46.69%</text><text x="212" y="9.5" class="e">4,708</text><text x="247" y="9.5" class="e">50.70%</text><text x="316" y="9.5" class="e">22.31%</text><text x="360" y="9.5" class="e">1,383</text><text x="393" y="9.5" class="e">50.33%</text></g>
<g transform="translate(0,131)"><text x="31" y="9.5">2022-03-01</text><text x="124" y="9.5" class="e">21,856</text><text x="160" y="9.5" class="e">3.56%</text><text x="212" y="9.5" class="e">5,032</text><text x="247" y="9.5" class="e">6.88%</text><text x="316" y="9.5" class="e">23.02%</text><text x="360" y="9.5" class="e">1,127</text><text x="395" y="9.5" class="e">-18.51%</text></g>
<g transform="translate(0,144.2)"><text x="31" y="9.5">2022-04-01</text><text x="124" y="9.5" class="e">22,211</text><text x="160" y="9.5" class="e">1.62%</text><text x="212" y="9.5" class="e">5,289</text><text x="247" y="9.5" class="e">5.11%</text><text x="316" y="9.5" class="e">23.81%</text><text x="360" y="9.5" class="e">1,309</text><text x="393" y="9.5" class="e">16.15%</text></g>
<g transform="translate(0,157.4)"><text x="31" y="9.5">2022-05-01</text><text x="124" y="9.5" class="e">23,303</text><text x="160" y="9.5" class="e">4.92%</text><text x="212" y="9.5" class="e">5,475</text><text x="247" y="9.5" class="e">3.52%</text><text x="316" y="9.5" class="e">23.49%</text><text x="360" y="9.5" class="e">1,418</text><text x="391" y="9.5" class="e">8.33%</text></g>
<g transform="translate(0,170.6)"><text x="31" y="9.5">2022-06-01</text><text x="124" y="9.5" class="e">24,504</text><text x="160" y="9.5" class="e">5.15%</text><text x="212" y="9.5" class="e">5,997</text><text x="247" y="9.5" class="e">9.53%</text><text x="316" y="9.5" class="e">24.47%</text><text x="360" y="9.5" class="e">1,570</text><text x="393" y="9.5" class="e">10.72%</text></g>
<g transform="translate(0,183.8)"><text x="31" y="9.5">2022-07-01</text><text x="124" y="9.5" class="e">25,693</text><text x="160" y="9.5" class="e">4.85%</text><text x="212" y="9.5" class="e">6,503</text><text x="247" y="9.5" class="e">8.44%</text><text x="316" y="9.5" class="e">25.31%</text><text x="360" y="9.5" class="e">1,784</text><text x="393" y="9.5" class="e">13.63%</text></g>
<g transform="translate(0,197)"><text x="31" y="9.5">2022-08-01</text><text x="124" y="9.5" class="e">26,715</text><text x="160" y="9.5" class="e">3.98%</text><text x="212" y="9.5" class="e">6,900</text><text x="247" y="9.5" class="e">6.10%</text><text x="316" y="9.5" class="e">25.83%</text><text x="360" y="9.5" class="e">2,183</text><text x="393" y="9.5" class="e">22.37%</text></g>
<g transform="translate(0,210.2)"><text x="31" y="9.5">2022-09-01</text><text x="124" y="9.5" class="e">27,922</text><text x="160" y="9.5" class="e">4.52%</text><text x="212" y="9.5" class="e">7,372</text><text x="247" y="9.5" class="e">6.84%</text><text x="316" y="9.5" class="e">26.40%</text><text x="360" y="9.5" class="e">2,378</text><text x="391" y="9.5" class="e">8.93%</text></g>
</g>
</svg>
</div>
<div class="cat">SaaS</div>
<div class="ttl">AARRR product metrics</div>
<div class="desc">Track SaaS metrics and their correlation to fuel product-<br>led growth (based on the AARRR framework).</div>
<div class="lm">LEARN MORE<svg width="7" height="10" viewBox="0 0 7 10"><polyline points="1.5,1.5 5.5,5 1.5,8.5" fill="none" stroke="#1f6c8c" stroke-width="1.6"/></svg></div>
</div>

<!-- ============ CARD 5 ============ -->
<div class="card" style="left:431px;top:468px">
<div class="thumb">
<svg width="388" height="225" viewBox="0 0 388 225">
<defs>
<linearGradient id="sh5" x1="0" x2="1" y1="0" y2="0"><stop offset="0" stop-color="#000" stop-opacity="0"/><stop offset="1" stop-color="#000" stop-opacity=".14"/></linearGradient>
</defs>
<rect width="388" height="225" fill="#fff"/>
<rect width="146" height="225" fill="#f6f6f9"/>
<rect width="146" height="40" fill="#5a4470"/>
<text x="10" y="20" font-size="10" font-weight="bold" fill="#fff">Performance by Ad Group</text>
<text x="10" y="30" font-size="3.5" fill="#e4dcee" class="u">Check available integrations</text>
<text x="78" y="30" font-size="3.5" fill="#e4dcee" class="u">Data consultancy services</text>
<rect x="7" y="38" width="74" height="42" rx="2" fill="#fff" stroke="#6d6d6d" stroke-width=".5"/>
<g font-size="3" fill="#333"><rect x="12" y="42" width="4" height="4" fill="#5a4470"/><text x="18" y="45.5">Channel</text><text x="76" y="45.5" class="e"># Imp.</text>
<rect x="12" y="50" width="4" height="4" fill="#5a4470"/><text x="18" y="53.5">Google Ads</text><text x="76" y="53.5" class="e">3,884</text>
<rect x="12" y="58" width="4" height="4" fill="#5a4470"/><text x="18" y="61.5">LinkedIn</text><text x="76" y="61.5" class="e">1.3k</text></g>
<rect x="89" y="39" width="52" height="16" rx="2" fill="#fff" stroke="#6d6d6d" stroke-width=".5"/>
<text x="95" y="49" font-size="4" fill="#333">Group</text><path d="M134 46.5 l1.5 1.5 l1.5 -1.5z" fill="#555"/>
<rect x="89" y="64" width="52" height="17" rx="2" fill="#fff" stroke="#6d6d6d" stroke-width=".5"/>
<text x="94" y="72" font-size="3.8" fill="#333">Acceptable CPC, $</text><text x="94" y="79" font-size="3.8" fill="#333">1.5</text>
<rect x="7" y="88" width="139" height="9" fill="#5a4470"/>
<g font-size="3" fill="#fff"><text x="10" y="94">Channel</text><text x="40" y="94">Group ↓</text><text x="105" y="94">Cost</text><text x="128" y="94">% Δ</text></g>
<g fill="#ebe9f0"><rect x="7" y="97" width="139" height="7.7"/><rect x="7" y="112.4" width="139" height="7.7"/><rect x="7" y="127.8" width="139" height="7.7"/></g>
<g font-size="2.6" fill="#666">
<text x="10" y="102">Google Ads</text><text x="40" y="102">Discovery Remarketing</text><text x="110" y="102" class="e">$ 5.0</text><text x="138" y="102" class="e">67.5%</text>
<text x="10" y="109.7">Google Ads</text><text x="40" y="109.7">DSR Remarketing</text><text x="110" y="109.7" class="e">$ 712</text><text x="138" y="109.7" class="e">30.1%</text>
<text x="10" y="117.4">LinkedIn</text><text x="40" y="117.4">LI Acquisition</text><text x="110" y="117.4" class="e">$1,201</text><text x="138" y="117.4" class="e">28.6%</text>
<text x="10" y="125.1">LinkedIn</text><text x="40" y="125.1">LI Remarketing</text><text x="110" y="125.1" class="e">$ 843</text><text x="138" y="125.1" class="e">35.3%</text>
<text x="10" y="132.8">Google Ads</text><text x="40" y="132.8">Search</text><text x="110" y="132.8" class="e">$2,200</text><text x="138" y="132.8" class="e">47.9%</text>
<text x="10" y="140.5">Google Ads</text><text x="40" y="140.5">YT Remarketing</text><text x="110" y="140.5" class="e">$ 183</text><text x="138" y="140.5" class="e">12.1%</text>
</g>
<text x="40" y="152" font-size="2.8" font-weight="bold" fill="#444">Grand total</text><text x="110" y="152" font-size="2.8" class="e" fill="#444">$5,844</text>
<rect x="7" y="169" width="139" height="9" fill="#5a4470"/>
<g font-size="3" fill="#fff"><text x="10" y="175">Channel</text><text x="40" y="175">Group ↓</text><text x="95" y="175">Signups</text><text x="118" y="175">% Δ</text><text x="130" y="175">CPL Change</text></g>
<g fill="#ebe9f0"><rect x="7" y="178" width="139" height="7.7"/><rect x="7" y="193.4" width="139" height="7.7"/><rect x="7" y="208.8" width="139" height="7.7"/></g>
<g font-size="2.6" fill="#666">
<text x="10" y="183">Google Ads</text><text x="40" y="183">Discovery Remarketing</text><text x="105" y="183" class="e">3</text><text x="125" y="183" class="e">100.0%</text>
<text x="10" y="190.7">Google Ads</text><text x="40" y="190.7">DSR Remarketing</text><text x="105" y="190.7" class="e">91</text><text x="125" y="190.7" class="e">3.1%</text>
<text x="10" y="198.4">LinkedIn</text><text x="40" y="198.4">LI Acquisition</text><text x="105" y="198.4" class="e">111</text><text x="125" y="198.4" class="e">3.1%</text>
<text x="10" y="206.1">LinkedIn</text><text x="40" y="206.1">LI Remarketing</text><text x="105" y="206.1" class="e">27</text><text x="125" y="206.1" class="e">18.5%</text>
<text x="10" y="213.8">Google Ads</text><text x="40" y="213.8">Search</text><text x="105" y="213.8" class="e">207</text><text x="125" y="213.8" class="e">10.5%</text>
<text x="10" y="221.5">Google Ads</text><text x="40" y="221.5">YT Remarketing</text><text x="105" y="221.5" class="e">37</text><text x="125" y="221.5" class="e">-45.5%</text>
</g>
<rect x="133" width="8" height="225" fill="url(#sh5)"/>
<rect x="141" width="146" height="225" fill="#f6f6f9"/>
<rect x="141" width="146" height="40" fill="#5a4470"/>
<text x="151" y="20" font-size="10" font-weight="bold" fill="#fff">Performance by Campaign</text>
<text x="151" y="30" font-size="3.5" fill="#e4dcee" class="u">Check available integrations</text>
<text x="220" y="30" font-size="3.5" fill="#e4dcee" class="u">Data consultancy services</text>
<rect x="149" y="38" width="57" height="44" rx="2" fill="#fff" stroke="#6d6d6d" stroke-width=".5"/>
<g font-size="3" fill="#333"><rect x="154" y="42" width="4" height="4" fill="#5a4470"/><text x="160" y="45.5">Channel</text><text x="202" y="45.5" class="e"># Imp.</text>
<rect x="154" y="50" width="4" height="4" fill="#5a4470"/><text x="160" y="53.5">Google Ads</text><text x="202" y="53.5" class="e">3,884</text>
<rect x="154" y="58" width="4" height="4" fill="#5a4470"/><text x="160" y="61.5">LinkedIn</text><text x="202" y="61.5" class="e">1.3k</text></g>
<rect x="216" y="39" width="56" height="16" rx="2" fill="#fff" stroke="#6d6d6d" stroke-width=".5"/>
<text x="222" y="49" font-size="4" fill="#333">Group</text><path d="M265 46.5 l1.5 1.5 l1.5 -1.5z" fill="#555"/>
<rect x="216" y="64" width="56" height="18" rx="2" fill="#fff" stroke="#6d6d6d" stroke-width=".5"/>
<text x="221" y="72.5" font-size="3.8" fill="#333">Acceptable CPC, $</text><text x="221" y="79.5" font-size="3.8" fill="#333">1.5</text>
<rect x="280" y="39" width="8" height="16" rx="1" fill="#fff" stroke="#6d6d6d" stroke-width=".5"/>
<rect x="149" y="95" width="138" height="10" fill="#5a4470"/>
<g font-size="3" fill="#fff"><text x="153" y="101.5">Campaign ↓</text><text x="270" y="101.5">Cost</text></g>
<g fill="#e6e4ec"><rect x="149" y="113.3" width="138" height="8.3"/><rect x="149" y="129.9" width="138" height="8.3"/><rect x="149" y="146.5" width="138" height="8.3"/></g>
<g font-size="2.6" fill="#666">
<text x="153" y="110.5">Campaign XX</text><text x="280" y="110.5" class="e">$745</text>
<text x="153" y="118.8">Campaign XX</text><text x="280" y="118.8" class="e">$95</text>
<text x="153" y="127.1">Campaign XX</text><text x="280" y="127.1" class="e">$12</text>
<text x="153" y="135.4">Campaign XX</text><text x="280" y="135.4" class="e">$714</text>
<text x="153" y="143.7">Campaign XX</text><text x="280" y="143.7" class="e">$67</text>
<text x="153" y="152">Campaign XX</text><text x="280" y="152" class="e">$57</text>
</g>
<text x="153" y="165" font-size="2.8" font-weight="bold" fill="#444">Grand total</text><text x="282" y="165" font-size="2.8" class="e" fill="#444">$1,360</text>
<rect x="149" y="175" width="138" height="10" fill="#5a4470"/>
<g font-size="3" fill="#fff"><text x="153" y="181.5">Campaign</text><text x="232" y="181.5">Signups</text><text x="255" y="181.5">% Δ</text><text x="268" y="181">CPL</text><text x="266" y="184.5">Change</text></g>
<g fill="#e6e4ec"><rect x="149" y="193.3" width="138" height="8.3"/><rect x="149" y="209.9" width="138" height="8.3"/></g>
<rect x="262" y="193" width="25" height="7.5" fill="#d9534f"/>
<g font-size="2.6" fill="#666">
<text x="153" y="190.5">Campaign XX</text><text x="240" y="190.5" class="e">90.4</text><text x="284" y="190.5" class="e">$8.85</text>
<text x="153" y="198.8">Campaign XX</text><text x="240" y="198.8" class="e">0.10</text>
<text x="153" y="207.1">Campaign XX</text><text x="240" y="207.1" class="e">0.0</text>
<text x="153" y="215.4">Campaign XX</text><text x="240" y="215.4" class="e">17.3</text><text x="284" y="215.4" class="e">$9.01</text>
<text x="153" y="223.7">Campaign XX</text><text x="240" y="223.7" class="e">0.0</text>
</g>
<rect x="279" width="8" height="225" fill="url(#sh5)"/>
<rect x="287" width="101" height="225" fill="#f7f7fa"/>
<rect x="287" width="101" height="50" fill="#5a4470"/>
<text x="298" y="21" font-size="10" font-weight="bold" fill="#fff">Countries overview</text>
<text x="298" y="29" font-size="3.5" fill="#e4dcee" class="u">Check available integrations</text>
<text x="366" y="29" font-size="3.5" fill="#e4dcee" class="u">Data consultancy services</text>
<g font-size="2.8" fill="#888"><text x="298" y="73">Max CPC = LTV × CR Lead to Paid × Marketing Budget</text><text x="298" y="77">Max CPL = LTV × CR Sign-up to Paid × Marketing Budget</text><text x="298" y="81">Max CAC = LTV × Marketing Budget</text></g>
<rect x="297" y="105" width="91" height="9" fill="#5a4470"/>
<g font-size="3" fill="#fff"><text x="300" y="111">Country</text><text x="350" y="111">Leads</text><text x="376" y="111">Signups</text></g>
<g fill="#e8e6ee"><rect x="297" y="114" width="91" height="8.85"/><rect x="297" y="131.7" width="91" height="8.85"/><rect x="297" y="149.4" width="91" height="8.85"/><rect x="297" y="167.1" width="91" height="8.85"/><rect x="297" y="184.8" width="91" height="8.85"/><rect x="297" y="202.5" width="91" height="8.85"/><rect x="297" y="220.2" width="91" height="8.85"/></g>
<g font-size="3" fill="#555">
<text x="300" y="120">United States</text><text x="358" y="120" class="e">8,848</text>
<text x="300" y="128.9">United Kingdom</text><text x="358" y="128.9" class="e">3,209</text>
<text x="300" y="137.7">Germany</text><text x="358" y="137.7" class="e">1,277</text>
<text x="300" y="146.6">Canada</text><text x="358" y="146.6" class="e">1,116</text>
<text x="300" y="155.4">Australia</text><text x="358" y="155.4" class="e">798</text>
<text x="300" y="164.3">France</text><text x="358" y="164.3" class="e">1,204</text>
<text x="300" y="173.1">Netherlands</text><text x="358" y="173.1" class="e">563</text>
<text x="300" y="182">New Zealand</text><text x="358" y="182" class="e">548</text>
<text x="300" y="190.8">Italy</text><text x="358" y="190.8" class="e">473</text>
<text x="300" y="199.7">Poland</text><text x="358" y="199.7" class="e">412</text>
<text x="300" y="208.5">Japan</text><text x="358" y="208.5" class="e">508</text>
<text x="300" y="217.4">Singapore</text><text x="358" y="217.4" class="e">416</text>
<text x="300" y="226.2">Switzerland</text><text x="358" y="226.2" class="e">357</text>
</g>
</svg>
</div>
<div class="cat">Paid Ads</div>
<div class="ttl">PPC reporting dashboard</div>
<div class="desc">Have a detailed overview of all ads channels and<br>campaigns gathered in one dashboard to instantly act<br>on your data.</div>
<div class="lm">LEARN MORE<svg width="7" height="10" viewBox="0 0 7 10"><polyline points="1.5,1.5 5.5,5 1.5,8.5" fill="none" stroke="#1f6c8c" stroke-width="1.6"/></svg></div>
</div>

<!-- ============ CARD 6 ============ -->
<div class="card" style="left:845px;top:468px">
<div class="thumb">
<svg width="388" height="225" viewBox="0 0 388 225">
<defs>
<linearGradient id="sh6" x1="0" x2="1" y1="0" y2="0"><stop offset="0" stop-color="#000" stop-opacity="0"/><stop offset="1" stop-color="#000" stop-opacity=".12"/></linearGradient>
</defs>
<rect width="388" height="225" fill="#f4f6f8"/>
<rect width="125" height="40" fill="#16739b"/>
<text x="11" y="19" font-size="10.5" font-weight="bold" fill="#fff">Sales Overview</text>
<text x="11" y="28" font-size="3.5" fill="#e3eef5" class="u">Check available integrations</text>
<text x="76" y="28" font-size="3.5" fill="#e3eef5" class="u">Data consultancy services</text>
<rect x="8" y="52" width="117" height="107" fill="#fff"/>
<text x="19" y="67" font-size="6.5" fill="#333">Total sales</text>
<path d="M25 122 A45 45 0 0 1 113.5 110.3 L103.8 112.9 A35 35 0 0 0 35 122 Z" fill="#1aa9e0"/>
<text x="66" y="109" font-size="3.5" fill="#777">Goal</text><path d="M74 105 l2 -2 l1 1 z" fill="#d9534f"/>
<text x="70" y="120" font-size="10" class="m" fill="#333">$731,733</text>
<text x="23" y="128" font-size="2.8" fill="#888">$0</text><text x="112" y="128" font-size="2.8" fill="#888">$800K</text>
<rect x="8" y="162" width="117" height="63" fill="#fff"/>
<text x="19" y="176" font-size="6.5" fill="#333">By Sales Manager</text>
<rect x="19" y="181" width="15" height="15" fill="#a57e5e"/><circle cx="26.5" cy="188" r="4.5" fill="#d9b08c"/>
<rect x="19" y="201" width="15" height="15" fill="#c79a74"/><circle cx="26.5" cy="208" r="4.5" fill="#e6c3a0"/>
<rect x="19" y="221" width="15" height="4" fill="#8e7358"/>
<g font-size="4.3" fill="#444"><text x="38" y="186">Walter Devyn</text><text x="38" y="206">Pollie Githa</text><text x="38" y="226">Bruce Rankin</text></g>
<rect x="118" width="7" height="225" fill="url(#sh6)"/>
<rect x="125" width="136" height="225" fill="#f4f6f8"/>
<rect x="125" width="136" height="40" fill="#43894a"/>
<text x="148" y="19" font-size="10.5" font-weight="bold" fill="#fff">Sales Performance</text>
<text x="148" y="28" font-size="3.5" fill="#e4f0e4" class="u">Check available integrations</text>
<text x="212" y="28" font-size="3.5" fill="#e4f0e4" class="u">Data consultancy services</text>
<rect x="146" y="50" width="115" height="110" fill="#fff"/>
<text x="162" y="67" font-size="6.5" fill="#333">By category</text>
<rect x="172" y="80.2" width="7" height="1.5" fill="#7b6a8c"/><text x="181" y="82" font-size="2.8" fill="#777">Technology</text>
<rect x="209" y="80.2" width="7" height="1.5" fill="#6ea66e"/><text x="218" y="82" font-size="2.8" fill="#777">Office Supplies</text>
<rect x="256" y="80.2" width="5" height="1.5" fill="#d08075"/>
<g font-size="2.6" fill="#999"><text x="170" y="88" class="e">125K</text><text x="170" y="100" class="e">100K</text><text x="170" y="111" class="e">75K</text><text x="170" y="123" class="e">50K</text><text x="170" y="135" class="e">25K</text><text x="170" y="146" class="e">0</text></g>
<path d="M173 87H261M173 99H261M173 110H261M173 122H261M173 134H261" stroke="#eee" stroke-width=".4"/>
<path d="M201 85V145" stroke="#ddd" stroke-width=".4"/>
<polygon points="173,137 201,142 231,124 261,139 261,145 173,145" fill="#d3c9de"/>
<polygon points="173,130 201,139 231,120 261,134 261,139 231,124 201,142 173,137" fill="#c4dcc2"/>
<polygon points="173,125 201,136 231,115 261,129 261,134 231,120 201,139 173,130" fill="#e9c1b9"/>
<polyline points="173,137 201,142 231,124 261,139" fill="none" stroke="#6a5a7c" stroke-width=".6"/>
<polyline points="173,130 201,139 231,120 261,134" fill="none" stroke="#5e8e5e" stroke-width=".6"/>
<polyline points="173,125 201,136 231,115 261,129" fill="none" stroke="#c0675c" stroke-width=".6"/>
<path d="M173 145H261" stroke="#aaa" stroke-width=".5"/>
<g font-size="2.6" fill="#888"><text x="173" y="151" class="m">Jan 2021</text><text x="201" y="151" class="m">Feb 2021</text><text x="231" y="151" class="m">Mar 2021</text><text x="257" y="151" class="m">Apr 2</text></g>
<rect x="146" y="164" width="115" height="61" fill="#fff"/>
<text x="162" y="179" font-size="6.5" fill="#333">By region</text>
<text x="162" y="198" font-size="4" fill="#444">Central</text>
<text x="162" y="208" font-size="7" fill="#333">$146,140</text>
<text x="162" y="214" font-size="2.8" fill="#d9534f">▼ 1.5%</text>
<g font-size="2.3" fill="#999"><text x="208" y="193" class="e">300</text><text x="208" y="201" class="e">200</text><text x="208" y="209" class="e">100</text><text x="208" y="218" class="e">0</text></g>
<path d="M210 190V219H261" fill="none" stroke="#bbb" stroke-width=".4"/>
<polyline points="211,200 218,213 226,211 234,212 242,208 250,215 261,210" fill="none" stroke="#b8d8b6" stroke-width=".8"/>
<polyline points="211,193 218,210 226,203 234,215 242,203 250,212 258,204 261,206" fill="none" stroke="#4c8c4c" stroke-width=".8"/>
<g font-size="2.2" fill="#999"><text x="210" y="223">Jan 2021</text><text x="226" y="223">Mar 2021</text><text x="243" y="223">May 2021</text></g>
<rect x="254" width="7" height="225" fill="url(#sh6)"/>
<rect x="261" width="127" height="225" fill="#f4f6f8"/>
<rect x="261" width="127" height="40" fill="#b75b4d"/>
<text x="285" y="19" font-size="10.5" font-weight="bold" fill="#fff">Cohort Analysis</text>
<text x="285" y="28" font-size="3.5" fill="#f6e3df" class="u">Check available integrations</text>
<text x="348" y="28" font-size="3.5" fill="#f6e3df" class="u">Data consultancy services</text>
<rect x="283" y="52" width="105" height="173" fill="#fff"/>
<text x="301" y="71" font-size="7.5" fill="#333">Repurchase Rate</text>
<text x="377" y="63" font-size="2.5" fill="#999">Cumul</text>
<text x="383" y="75" font-size="8.5" fill="#333">11.07%</text>
<g font-size="3" fill="#777"><text x="331" y="93" class="e"># Customers</text><text x="341" y="93">Cohort</text><text x="384" y="93">Month 1</text></g>
<rect x="366" y="95" width="22" height="114" fill="#b9594b"/>
<rect x="340" y="124" width="26" height="9.5" fill="#d9897d"/>
<g font-size="3" fill="#666">
<text x="331" y="101.5" class="e">280</text><text x="341" y="101.5">2021-01</text>
<text x="331" y="111" class="e">522</text><text x="341" y="111">2021-02</text>
<text x="331" y="120.5" class="e">755</text><text x="341" y="120.5">2021-03</text>
<text x="331" y="130" class="e">594</text><text x="341" y="130" fill="#fff">2021-04</text>
<text x="331" y="139.5" class="e">786</text><text x="341" y="139.5">2021-05</text>
<text x="331" y="149" class="e">592</text><text x="341" y="149">2021-06</text>
<text x="331" y="158.5" class="e">693</text><text x="341" y="158.5">2021-07</text>
<text x="331" y="168" class="e">588</text><text x="341" y="168">2021-08</text>
<text x="331" y="177.5" class="e">907</text><text x="341" y="177.5">2021-09</text>
<text x="331" y="187" class="e">450</text><text x="341" y="187">2021-10</text>
<text x="331" y="196.5" class="e">627</text><text x="341" y="196.5">2021-11</text>
<text x="331" y="206" class="e">285</text><text x="341" y="206">2021-12</text>
</g>
</svg>
</div>
<div class="cat">Sales</div>
<div class="ttl">Sales analysis dashboard</div>
<div class="desc">Track all important sales metrics in one place - from<br>general sales performance to cohort analysis and<br>detailed sales report by region.</div>
<div class="lm">LEARN MORE<svg width="7" height="10" viewBox="0 0 7 10"><polyline points="1.5,1.5 5.5,5 1.5,8.5" fill="none" stroke="#1f6c8c" stroke-width="1.6"/></svg></div>
</div>

</body></html>
